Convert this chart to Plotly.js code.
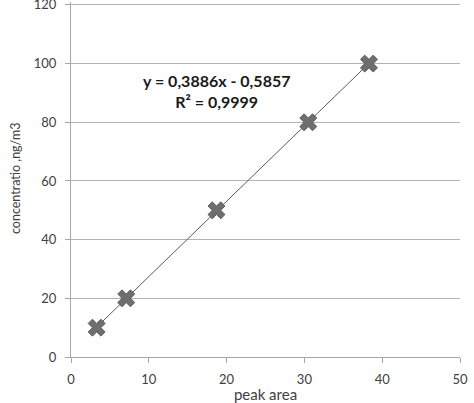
<!DOCTYPE html>
<html>
<head>
<meta charset="utf-8">
<script src="https://cdn.plot.ly/plotly-3.0.1.min.js"></script>
<style>body{margin:0;padding:0;background:#fff;}</style>
</head>
<body>
<div id="myDiv" style="width:474px;height:403px;"></div>
<script>
// calibration points
var peakArea = [3.3, 7.1, 18.7, 30.5, 38.3];
var concentration = [10, 20, 50, 80, 100];
var xTicks = [0, 10, 20, 30, 40, 50];
var yTicks = [0, 20, 40, 60, 80, 100, 120];
var eqText = ['y = 0,3886x - 0,5857', 'R² = 0,9999'];

// least squares trendline over the data range
function fitLine(xs, ys) {
  var n = xs.length, sx = 0, sy = 0, sxy = 0, sxx = 0;
  for (var i = 0; i < n; i++) {
    sx += xs[i]; sy += ys[i]; sxy += xs[i] * ys[i]; sxx += xs[i] * xs[i];
  }
  var k = (n * sxy - sx * sy) / (n * sxx - sx * sx);
  var b = (sy - k * sx) / n;
  var x0 = Math.min.apply(null, xs), x1 = Math.max.apply(null, xs);
  return { x: [x0, x1], y: [k * x0 + b, k * x1 + b] };
}

var trend = fitLine(peakArea, concentration);

var trendTrace = {
  x: trend.x,
  y: trend.y,
  type: 'scatter',
  mode: 'lines',
  line: { color: '#5a5a5a', width: 1 },
  hoverinfo: 'skip'
};

var points = {
  x: peakArea,
  y: concentration,
  type: 'scatter',
  mode: 'markers',
  marker: {
    symbol: 'x',
    size: 15,
    color: '#6e6e6e',
    line: { color: '#5e5e5e', width: 1 }
  }
};

// plot box in pixels: left 71, right 460, top 2, bottom 357 (120 sits at y=5)
var layout = {
  width: 474,
  height: 403,
  margin: { l: 71, r: 14, t: 2, b: 46, pad: 0 },
  paper_bgcolor: '#ffffff',
  plot_bgcolor: '#ffffff',
  showlegend: false,
  font: { family: 'Lato, sans-serif', size: 13, color: '#404040' },
  xaxis: {
    range: [0, 50],
    tickvals: xTicks,
    showgrid: false,
    zeroline: false,
    showline: true,
    linecolor: '#a6a6a6',
    linewidth: 1,
    ticks: 'outside',
    ticklen: 5,
    tickcolor: '#a6a6a6',
    ticklabelstandoff: 5,
    tickfont: { size: 13, color: '#404040' },
    title: { text: 'peak area', font: { size: 15, color: '#404040' }, standoff: 2 }
  },
  yaxis: {
    range: [0, 121],
    tickvals: yTicks,
    showgrid: true,
    gridcolor: '#b3b3b3',
    gridwidth: 1,
    zeroline: false,
    showline: true,
    linecolor: '#a6a6a6',
    linewidth: 1,
    ticks: 'outside',
    ticklen: 5,
    tickcolor: '#a6a6a6',
    ticklabelstandoff: 6,
    ticklabeloverflow: 'allow',
    tickfont: { size: 13, color: '#404040' }
  },
  annotations: [{
    xref: 'paper', yref: 'paper',
    x: (216 - 71) / 389, y: (357 - 91) / 355,
    xanchor: 'center', yanchor: 'middle',
    align: 'center',
    showarrow: false,
    text: '<b>' + eqText[0] + '</b><br><b>' + eqText[1] + '</b>',
    font: { size: 16, color: '#1a1a1a' }
  }, {
    xref: 'paper', yref: 'paper',
    x: (15 - 71) / 389, y: (357 - 179) / 355,
    xanchor: 'center', yanchor: 'middle',
    textangle: -90,
    showarrow: false,
    text: 'concentratio ,ng/m3',
    font: { size: 12.5, color: '#404040' }
  }]
};

Plotly.newPlot('myDiv', [trendTrace, points], layout, { displayModeBar: false, staticPlot: true });
</script>
</body>
</html>
